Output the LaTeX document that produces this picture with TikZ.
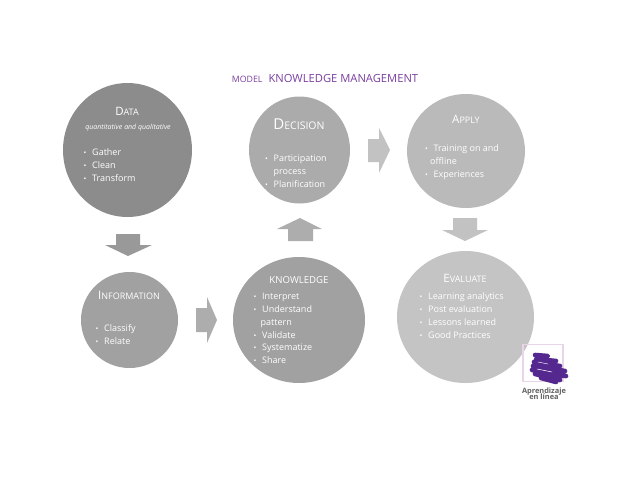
\documentclass[tikz,border=0pt]{standalone}
\usepackage{fontspec}
\usetikzlibrary{shapes.geometric}
\setmainfont{Open Sans}
\definecolor{purp}{HTML}{7B3FA0}
\definecolor{logop}{HTML}{55288F}
\definecolor{logopink}{HTML}{E8D5E8}
\tikzset{
 x=1pt,y=-1pt,
 blob/.style={ellipse,draw=none,inner sep=0pt,fill=black!#1},
 headtxt/.style={text=white,anchor=center,inner sep=0pt},
 bul/.style={text=white,anchor=north west,align=left,inner sep=0pt,font=\fontsize{9}{13.1}\selectfont},
 blk/.style={fill=black!#1,draw=none},
 scrib/.style={draw=logop,line width=4.6pt,line cap=round,line join=round},
}
\newcommand{\sch}[2]{{\fontsize{11.5}{13}\selectfont #1}{\fontsize{9}{13}\selectfont #2}}
\newcommand{\bl}{\makebox[8.5pt][l]{\fontsize{7.5}{7.5}\selectfont\textbullet}}
\begin{document}
\begin{tikzpicture}
\useasboundingbox (0,0) rectangle (638,493);
\fill[white] (0,0) rectangle (638,493);
\node[anchor=center,inner sep=0pt,text=purp] (title) at (325,78) {{\fontsize{8.8}{10}\selectfont MODEL}\hspace{6pt}{\fontsize{11.2}{13}\selectfont KNOWLEDGE MANAGEMENT}};
% circles
\node[blob=45,minimum width=129pt,minimum height=134pt] (data) at (127.5,150) {};
\node[blob=33,minimum width=101pt,minimum height=107pt] (decision) at (299.5,150) {};
\node[blob=27,minimum width=118pt,minimum height=114pt] (apply) at (466,151) {};
\node[blob=37,minimum width=97pt,minimum height=96pt] (information) at (129.5,320) {};
\node[blob=37,minimum width=132pt,minimum height=126pt] (knowledge) at (299,320) {};
\node[blob=23,minimum width=137pt,minimum height=132pt] (evaluate) at (465.5,317) {};
% block arrows
\fill[blk=40] (116,234) -- (140,234) -- (140,245) -- (152,245) -- (128,256) -- (105,245) -- (116,245) -- cycle;
\fill[blk=32] (288,241) -- (313,241) -- (313,229) -- (322,229) -- (300,218) -- (277,229) -- (288,229) -- cycle;
\fill[blk=24] (368,139) -- (379,139) -- (379,128) -- (390,150) -- (379,173) -- (379,162) -- (368,162) -- cycle;
\fill[blk=24] (453,218) -- (477,218) -- (477,230) -- (488,230) -- (465,241) -- (442,230) -- (453,230) -- cycle;
\fill[blk=32] (196,308) -- (207,308) -- (207,297) -- (217,320) -- (207,343) -- (207,332) -- (196,332) -- cycle;
% texts
\node[headtxt] (t1) at (127,111) {\sch{D}{ATA}};
\node[headtxt,font=\itshape\fontsize{7}{8}\selectfont] (t1b) at (128,127.5) {quantitative and qualitative};
\node[bul] (b1) at (83.5,148.5) {\bl Gather\\\bl Clean\\\bl Transform};
\node[headtxt] (t2) at (299,124) {{\fontsize{15}{15}\selectfont D}{\fontsize{10.5}{13}\selectfont ECISION}};
\node[bul] (b2) at (265,154.5) {\bl Participation\\\hspace{8.5pt}process\\\bl Planification};
\node[headtxt] (t3) at (466,119) {\sch{A}{PPLY}};
\node[bul] (b3) at (425,144.5) {\bl Training on and\\\hspace{5pt}offline\\\bl Experiences};
\node[headtxt] (t4) at (129,295) {\sch{I}{NFORMATION}};
\node[bul] (b4) at (95.5,324.5) {\bl Classify\\\bl Relate};
\node[headtxt,font=\fontsize{9.6}{11}\selectfont] (t5) at (299,280.5) {KNOWLEDGE};
\node[bul,font=\fontsize{9}{12.8}\selectfont] (b5) at (253.5,293) {\bl Interpret\\\bl Understand\\\hspace{7pt}pattern\\\bl Validate\\\bl Systematize\\\bl Share};
\node[headtxt] (t6) at (465,278) {\sch{E}{VALUATE}};
\node[bul] (b6) at (419.5,292.5) {\bl Learning analytics\\\bl Post evaluation\\\bl Lessons learned\\\bl Good Practices};
% logo
\draw[logopink,line width=1.6pt] (523,344.5) rectangle (563,381.5);
\draw[scrib] (535,355) -- (548,356) -- (536,359) -- (556,361) -- (534,362) -- (560,366) -- (533,366) -- (565,371) -- (532,370) -- (566,376) -- (535,374) -- (560,380) -- (541,378) -- (556,382);
\draw[white,line width=0.5pt] (537,369) -- (552,372);
\draw[white,line width=0.4pt] (538,362) -- (548,364);
\node[inner sep=0pt,align=center,text=black!62,font=\fontsize{7.4}{7.4}\selectfont\bfseries] (logotext) at (544,394) {Aprendizaje\\[-2.5pt]en línea};
\end{tikzpicture}
\end{document}
